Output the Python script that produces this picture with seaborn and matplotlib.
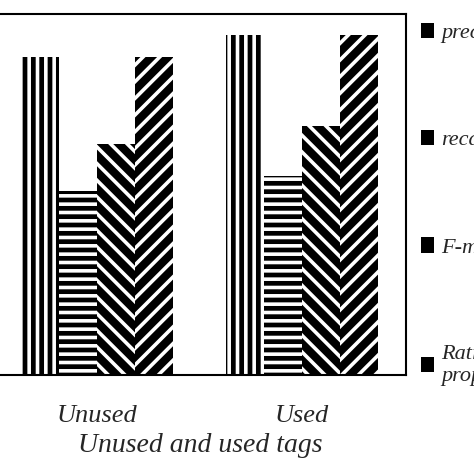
import matplotlib
matplotlib.use("Agg")
import matplotlib.pyplot as plt
import seaborn as sns
import pandas as pd
from matplotlib.patches import Patch

groups = ["Unused", "Used"]
metrics = ["precision", "recall", "F-measure", "Ratio of the\nproposed"]
unused_vals = [0.88, 0.51, 0.64, 0.88]
used_vals = [0.94, 0.55, 0.69, 0.94]
hatches = ["||", "--", "\\\\", "//"]

rows = []
for g, vals in zip(groups, [unused_vals, used_vals]):
    for m, v in zip(metrics, vals):
        rows.append({"group": g, "metric": m, "value": v})
df = pd.DataFrame(rows)

sns.set_style("white")
plt.rcParams["font.family"] = ["Liberation Serif", "DejaVu Serif"]
plt.rcParams["hatch.linewidth"] = 2.6

fig = plt.figure(figsize=(4.74, 4.74), dpi=100)
ax = fig.add_axes([-0.0116, 0.209, 0.868, 0.762])
sns.barplot(data=df, x="group", y="value", hue="metric", hue_order=metrics,
            palette=["black"] * 4, width=0.74, ax=ax, legend=False, saturation=1)
for cont, h in zip(ax.containers, hatches):
    for bar in cont:
        bar.set_hatch(h)
        bar.set_edgecolor("white")
        bar.set_linewidth(0)
ax.set_xlim(-0.5, 1.507)
ax.set_ylim(0, 1.0)
ax.set_yticks([])
ax.set_xticks([0, 1])
ax.set_xticklabels(groups, fontsize=19, style="italic")
ax.tick_params(axis="x", length=0, pad=22)
ax.set_xticks([0.5], minor=True)
ax.tick_params(axis="x", which="minor", length=6, direction="in", width=1)
ax.set_xlabel("Unused and used tags", fontsize=20, style="italic", labelpad=4)
ax.set_ylabel("")
for s in ax.spines.values():
    s.set_linewidth(1.5)
    s.set_color("black")

handles = [Patch(facecolor="black", edgecolor="white", hatch="", linewidth=0) for h in hatches]
ax.legend(handles, metrics, loc="upper left", bbox_to_anchor=(1.015, 1.0), frameon=False,
          prop={"size": 16, "style": "italic"}, labelspacing=3.9, handlelength=0.6,
          handleheight=0.7, handletextpad=0.3, borderaxespad=0)
fig.savefig("out.png", dpi=100)
